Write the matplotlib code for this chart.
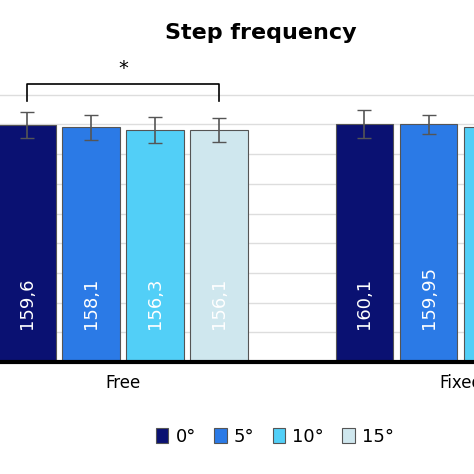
import matplotlib
matplotlib.use("Agg")
import matplotlib.pyplot as plt
import numpy as np

groups = ["Free", "Fixed"]
angles = ["0°", "5°", "10°", "15°"]
free_vals = [159.6, 158.1, 156.3, 156.1]
free_err = [8.8, 8.5, 8.5, 8.0]
fixed_vals = [160.1, 159.95, 158.0, 157.5]
fixed_err = [9.5, 6.5, 8.0, 8.0]
colors = ["#0a1172", "#2b7ae6", "#52cff7", "#cfe7ee"]
labels_free = ["159,6", "158,1", "156,3", "156,1"]
labels_fixed = ["160,1", "159,95", "158", "157,5"]

fig = plt.figure(figsize=(4.74, 4.74), dpi=100)
ax = fig.add_axes([0, 0.236, 1, 0.627])
centers = [0, 5.27]
offs = np.array([-1.5, -0.5, 0.5, 1.5])
for c, vals, errs, labs in [(centers[0], free_vals, free_err, labels_free),
                             (centers[1], fixed_vals, fixed_err, labels_fixed)]:
    for i in range(4):
        x = c + offs[i]
        ax.bar(x, vals[i], width=0.9, color=colors[i], edgecolor="#555555", linewidth=0.8, zorder=2,
               label=angles[i] if c == 0 else None)
        ax.errorbar(x, vals[i], yerr=errs[i], color="#555555", capsize=5, lw=1.2, zorder=3)
        ax.text(x, 22, labs[i], rotation=90, color="white", ha="center", va="bottom", fontsize=13, zorder=4)
ax.set_xlim(-1.92, 5.48)
ax.set_ylim(0, 200)
ax.set_yticks(np.arange(0, 181, 20))
ax.yaxis.grid(True, color="#dddddd", lw=1, zorder=0)
ax.set_xticks([])
ax.set_yticklabels([])
ax.tick_params(left=False)
for s in ["top", "left", "right"]:
    ax.spines[s].set_visible(False)
ax.spines["bottom"].set_linewidth(3)
# bracket
ax.plot([-1.5, -1.5, 1.5, 1.5], [176, 187, 187, 176], color="black", lw=1.2, clip_on=False)
ax.text(0, 191, "*", ha="center", va="bottom", fontsize=14)
for c, g in zip(centers, groups):
    ax.text(c, -8, g, ha="center", va="top", fontsize=12, clip_on=False)
fig.text(0.55, 0.93, "Step frequency", ha="center", va="center", fontsize=16, fontweight="bold")
fig.legend(loc="center", bbox_to_anchor=(0.58, 0.078), ncol=4, frameon=False, fontsize=13,
           handlelength=0.7, handleheight=0.9, columnspacing=1.0, handletextpad=0.4)
fig.savefig("out.png", dpi=100)
